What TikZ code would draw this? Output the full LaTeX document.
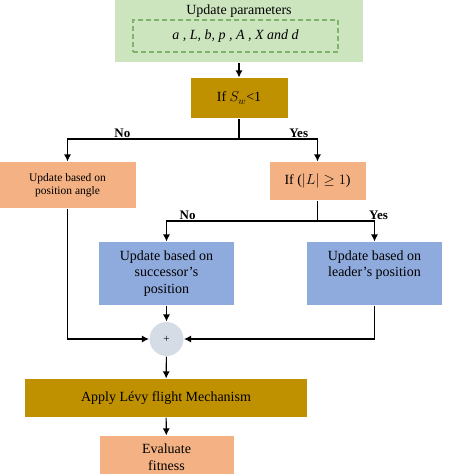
\documentclass[tikz,border=0pt]{standalone}
\usepackage{fontspec}
\setmainfont{Liberation Serif}
\usetikzlibrary{positioning, arrows.meta}
\definecolor{paramgreen}{HTML}{CCE5BE}
\definecolor{dashgreen}{HTML}{7FB26A}
\definecolor{levygold}{HTML}{BF9000}
\definecolor{peach}{HTML}{F4B183}
\definecolor{stepblue}{HTML}{8FAADC}
\definecolor{sumgray}{HTML}{D6DCE5}

\begin{document}
\begin{tikzpicture}[x=1pt, y=-1pt, >={Latex[length=7pt, width=7pt]}, line width=1.1pt,
    box/.style={rectangle, inner sep=2pt, align=center,
      font=\fontsize{14}{16.5}\selectfont},
    goldbox/.style={box, fill=levygold},
    peachbox/.style={box, fill=peach},
    bluebox/.style={box, fill=stepblue},
    branch/.style={font=\bfseries\fontsize{13}{15}\selectfont, inner sep=1pt}]
  \useasboundingbox (0,0) rectangle (474,474);

  % update parameters
  \node[box, fill=paramgreen, minimum width=248pt, minimum height=68pt]
    (params) at (239,28) {};
  \node[box] (ptitle) at (239,11) {Update parameters};
  \node[box, draw=dashgreen, dash pattern=on 5pt off 3pt, line width=1.4pt,
    font=\itshape\fontsize{14}{16}\selectfont,
    minimum width=205pt, minimum height=32pt] (plist) at (235.5,36)
    {a , L, b, p , A , X and d};

  % first test
  \node[goldbox, minimum width=97pt, minimum height=40pt] (sw) at (239,98)
    {If $S_w$<1};
  \coordinate (split1) at (239,139);
  \node[peachbox, font=\fontsize{11.5}{13.5}\selectfont,
    minimum width=136pt, minimum height=46pt] (angle) at (67.5,185)
    {Update based on\\ position angle};
  \node[peachbox, minimum width=96pt, minimum height=38pt] (cond) at (317.5,181)
    {If ($|L|\geq 1$)};

  % second test
  \coordinate (split2) at (317.5,221);
  \node[bluebox, minimum width=135pt, minimum height=63pt] (succ) at (166.5,273.5)
    {Update based on\\ successor’s\\ position};
  \node[bluebox, text depth=20pt, minimum width=135pt, minimum height=63pt] (lead) at (374.5,273.5)
    {Update based on\\ leader’s position};

  \node[circle, fill=sumgray, minimum size=34pt, inner sep=0pt,
    font=\fontsize{11}{12}\selectfont] (sum) at (166.5,339) {+};
  \node[goldbox, minimum width=282pt, minimum height=38pt] (levy) at (166,398)
    {Apply Lévy flight Mechanism};
  \node[peachbox, minimum width=134pt, minimum height=42pt] (eval) at (166.5,457)
    {Evaluate\\ fitness};

  % connectors
  \draw[->] (params) -- (sw);
  \draw (sw) -- (split1);
  \draw[->] (split1) -| node[branch, pos=0.34, above] {No} (angle);
  \draw[->] (split1) -| node[branch, pos=0.38, above] {Yes} (cond);
  \draw (cond) -- (split2);
  \draw[->] (split2) -| node[branch, pos=0.43, above] {No} (succ);
  \draw[->] (split2) -| node[branch, pos=0.5, above right, xshift=-7pt] {Yes} (lead);
  \draw[->] (succ) -- (sum);
  \draw[->] (angle) |- (sum);
  \draw[->] (lead.south) |- (sum);
  \draw[->] (sum) -- (levy);
  \draw[->] (levy) -- (eval);
\end{tikzpicture}
\end{document}
